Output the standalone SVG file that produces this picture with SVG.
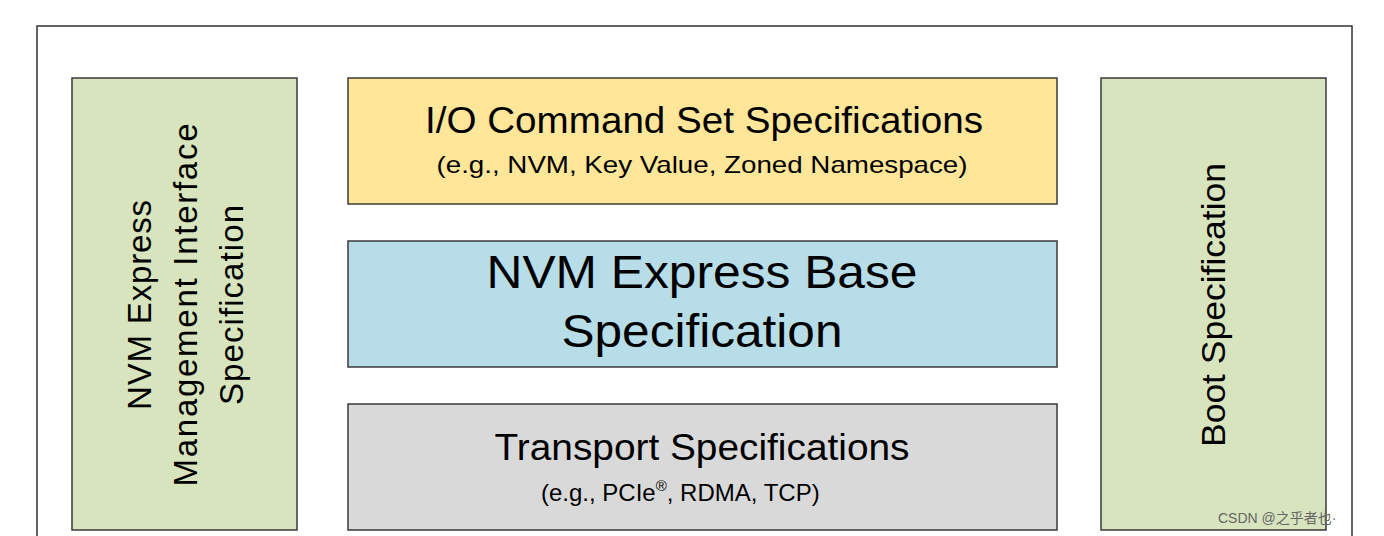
<svg xmlns="http://www.w3.org/2000/svg" width="1384" height="536" viewBox="0 0 1384 536">
<style>
.b{stroke:#3a3a3a;stroke-width:1.5}
.t{font-family:"Liberation Sans",Arial,sans-serif;fill:#000;text-anchor:middle}
</style>
<rect width="1384" height="536" fill="#fff"/>
<rect x="37" y="26" width="1315" height="530" fill="#fff" stroke="#333" stroke-width="1.5"/>
<g id="mgmt"><rect class="b" x="72" y="78" width="225" height="452" fill="#d7e4bd"/>
<text class="t" font-size="33" transform="translate(184,305) rotate(-90)" lengthAdjust="spacingAndGlyphs"><tspan x="0" y="-33" textLength="210">NVM Express</tspan><tspan x="0" y="13" textLength="363">Management Interface</tspan><tspan x="0" y="59" textLength="200">Specification</tspan></text></g>
<g id="io"><rect class="b" x="348" y="78" width="709" height="126" fill="#ffe699"/>
<text class="t" font-size="36" x="704" y="133" textLength="558" lengthAdjust="spacingAndGlyphs">I/O Command Set Specifications</text>
<text class="t" font-size="24" x="702" y="173" textLength="531" lengthAdjust="spacingAndGlyphs">(e.g., NVM, Key Value, Zoned Namespace)</text></g>
<g id="base"><rect class="b" x="348" y="241" width="709" height="126" fill="#b7dde8"/>
<text class="t" font-size="46" x="702" y="288" textLength="431" lengthAdjust="spacingAndGlyphs">NVM Express Base</text>
<text class="t" font-size="46" x="702" y="347" textLength="281" lengthAdjust="spacingAndGlyphs">Specification</text></g>
<g id="transport"><rect class="b" x="348" y="404" width="709" height="126" fill="#d9d9d9"/>
<text class="t" font-size="36" x="702" y="460" textLength="415" lengthAdjust="spacingAndGlyphs">Transport Specifications</text>
<text x="541" y="501" font-family="'Liberation Sans',Arial,sans-serif" font-size="24">(e.g., PCIe<tspan font-size="15" dy="-10">®</tspan><tspan dy="10">, RDMA, TCP)</tspan></text></g>
<g id="boot"><rect class="b" x="1101" y="78" width="225" height="452" fill="#d7e4bd"/>
<text class="t" font-size="33" transform="translate(1214,305) rotate(-90)" y="11" textLength="284" lengthAdjust="spacingAndGlyphs">Boot Specification</text></g>
<g id="connectors"/>
<text x="1218" y="523" font-family="'Liberation Sans','Noto Sans CJK SC',sans-serif" font-size="14" fill="#666">CSDN @之乎者也·</text>
</svg>
